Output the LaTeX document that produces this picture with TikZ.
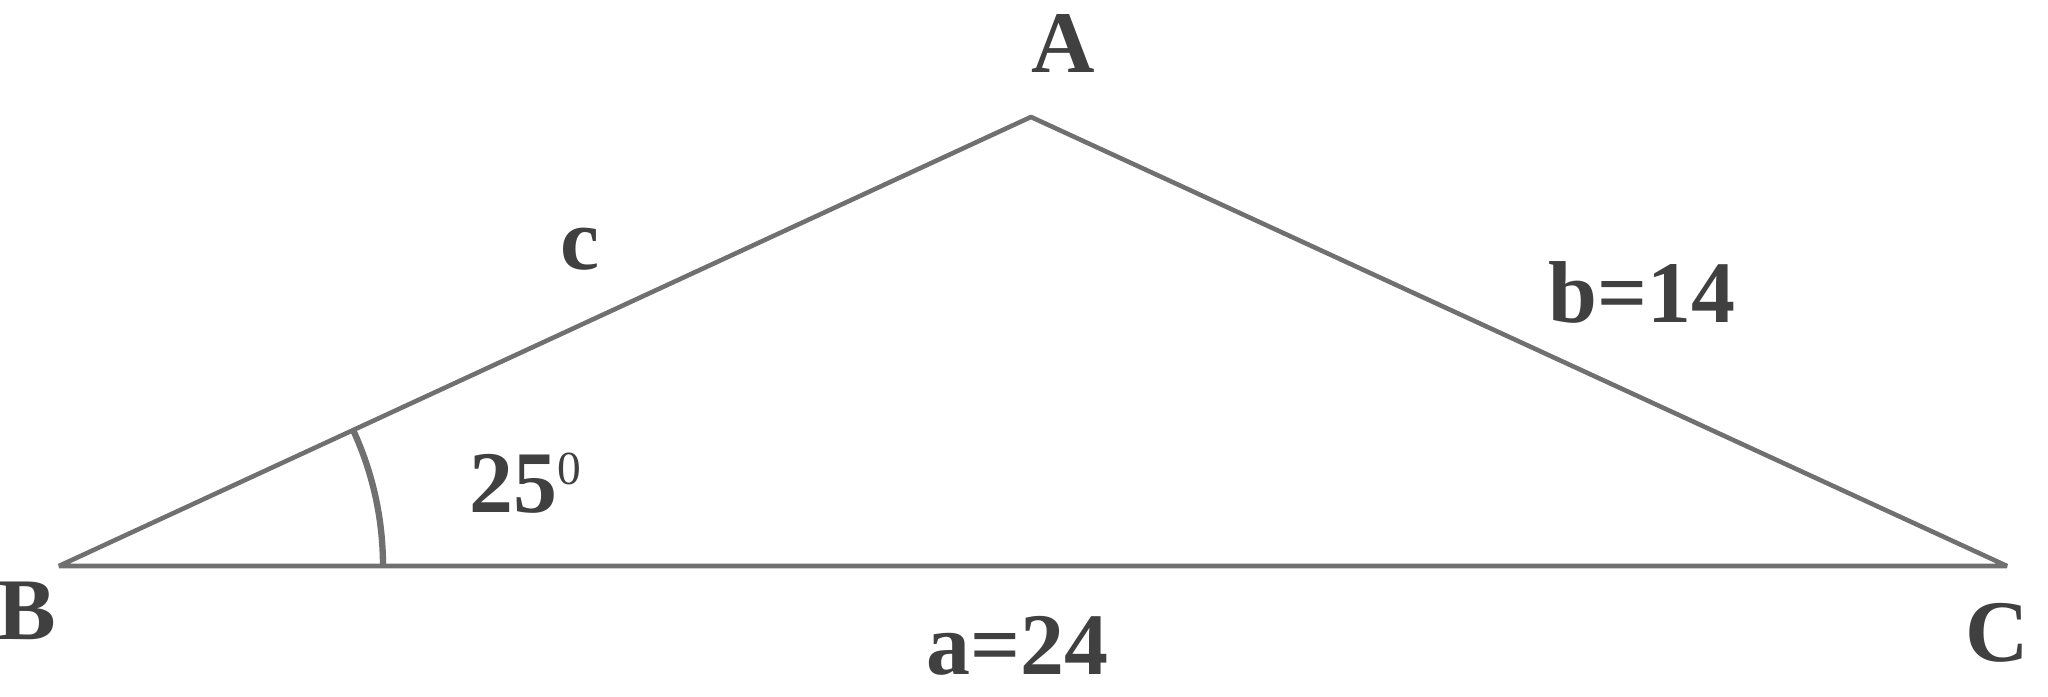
\documentclass[tikz,border=0pt]{standalone}
\usepackage{fontspec}
\setmainfont{Liberation Serif}
\definecolor{linegray}{HTML}{707070}
\definecolor{textgray}{HTML}{404040}

\begin{document}
\begin{tikzpicture}

      \useasboundingbox (0,0) rectangle (20.48,6.97);

      \coordinate (A) at (10.31,5.80);
      \coordinate (B) at (0.59,1.31);
      \coordinate (C) at (20.07,1.31);

      \draw[linegray,line width=1.3pt,line join=bevel] (B) -- (A) -- (C) -- cycle;
      \draw[linegray,line width=1.8pt] ([shift={(0:3.24)}]B) arc[start angle=0,end angle=24.8,radius=3.24];

      \begin{scope}[every node/.style={anchor=base,inner sep=0pt,text=textgray,font=\fontsize{25}{30}\selectfont\bfseries}]
        \node (lA)  at (10.63,6.24) {A};
        \node (lB)  at (0.27,0.57)  {B};
        \node (lC)  at (19.97,0.35) {C};
        \node (c)   at (5.80,4.27)  {c};
        \node (b)   at (16.42,3.74) {b=14};
        \node (a)   at (10.17,0.22) {a=24};
        \node (ang) at (5.25,1.84)  {25\raisebox{0.28cm}{\fontsize{13.5}{16}\selectfont\mdseries 0}};
      \end{scope}

    \end{tikzpicture}
\end{document}
